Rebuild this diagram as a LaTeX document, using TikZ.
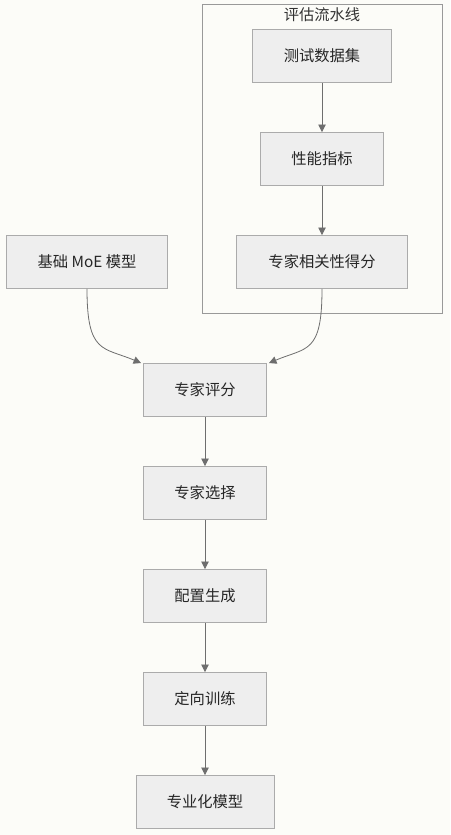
\documentclass[tikz,border=0pt]{standalone}
\usepackage{fontspec}
\setmainfont{Noto Sans CJK SC}
\usetikzlibrary{arrows.meta}
\definecolor{bg}{HTML}{FCFCF8}
\definecolor{nfill}{HTML}{EEEEEE}
\definecolor{nline}{HTML}{ABABAB}
\definecolor{eline}{HTML}{6E6E6E}
\definecolor{cline}{HTML}{999999}
\tikzset{
  box/.style={draw=nline, fill=nfill, line width=0.9pt, minimum height=53pt, inner sep=0pt, font=\fontsize{15.3}{17}\selectfont, text=black!85},
  arr/.style={draw=eline, line width=0.8pt, -{Triangle[length=7.5pt,width=7.5pt]}},
  clus/.style={draw=cline, line width=0.9pt, fill=none},
}
\begin{document}
\begin{tikzpicture}[x=1pt,y=-1pt]
\fill[bg] (0,0) rectangle (450,835);
\useasboundingbox (0,0) rectangle (450,835);
\draw[clus] (202,4) rectangle (442,313);
\node[font=\fontsize{15.3}{17}\selectfont, text=black!80] (ctitle) at (322,15) {评估流水线};
\node[box, minimum width=139pt] (ds) at (322,56) {测试数据集};
\node[box, minimum width=123pt] (pm) at (322,159) {性能指标};
\node[box, minimum width=171pt] (rel) at (322,262) {专家相关性得分};
\node[box, minimum width=161pt] (moe) at (87,262) {基础 MoE 模型};
\node[box, minimum width=123pt] (score) at (205,390) {专家评分};
\node[box, minimum width=123pt] (sel) at (205,493) {专家选择};
\node[box, minimum width=123pt] (cfg) at (205,596) {配置生成};
\node[box, minimum width=123pt] (train) at (205,699) {定向训练};
\node[box, minimum width=138pt] (spec) at (205,802) {专业化模型};
\draw[arr] (ds) -- (pm);
\draw[arr] (pm) -- (rel);
\draw[arr] (moe.south) .. controls +(0,65) and +(-38,-16) .. ([xshift=-2pt]score.north west);
\draw[arr] (rel.south) .. controls +(0,65) and +(38,-16) .. ([xshift=2pt]score.north east);
\draw[arr] (score) -- (sel);
\draw[arr] (sel) -- (cfg);
\draw[arr] (cfg) -- (train);
\draw[arr] (train) -- (spec);
\end{tikzpicture}
\end{document}
